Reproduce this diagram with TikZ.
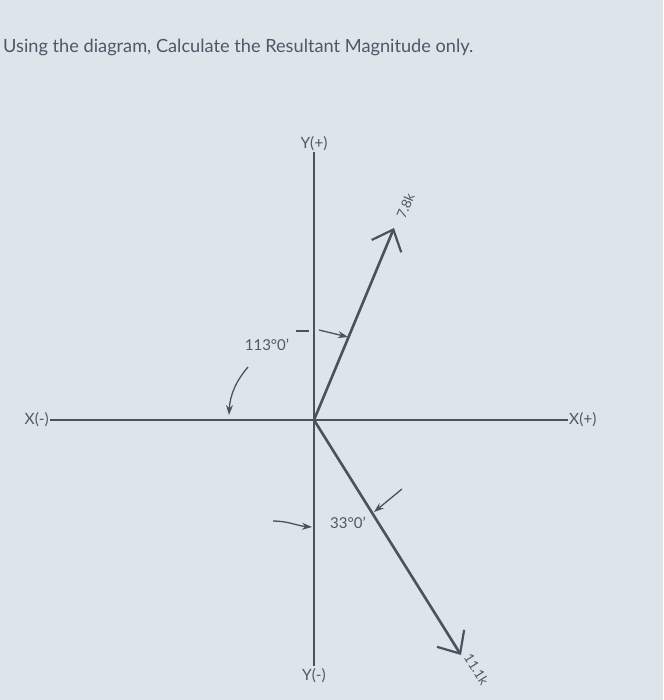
\documentclass[tikz,border=0pt]{standalone}
\usepackage{fontspec}
\setmainfont{Lato}
\usetikzlibrary{arrows.meta}
\definecolor{bg}{HTML}{DDE4EA}
\definecolor{ink}{HTML}{4A525E}
\definecolor{txt}{HTML}{4E5866}
\tikzset{
  axis/.style={draw=ink, line width=1.3pt},
  vec/.style={draw=ink, line width=2.6pt, -{Straight Barb[length=18pt,width=32pt,line width=2.2pt]}},
  note/.style={draw=ink, line width=1.3pt, -{Stealth[length=10pt,width=7pt]}},
  lbl/.style={text=txt, font=\fontsize{15.5}{17}\selectfont, inner sep=1pt},
  vlbl/.style={text=txt, font=\fontsize{13.5}{15}\selectfont, inner sep=1pt},
  ang/.style={text=txt, font=\fontsize{15}{17}\selectfont, inner sep=1pt},
}
\begin{document}
\begin{tikzpicture}[x=1pt, y=-1pt]
\fill[bg] (0,0) rectangle (663,700);
\useasboundingbox (0,0) rectangle (663,700);
\node[anchor=base west, text=txt, font=\fontsize{18.2}{22}\selectfont, inner sep=0pt] (title) at (3,53) {Using the diagram, Calculate the Resultant Magnitude only.};
% axes
\coordinate (O) at (314,420);
\coordinate (xl) at (50,420);
\coordinate (xr) at (568,420);
\coordinate (yt) at (314,152);
\coordinate (yb) at (314,666);
\draw[axis] (xl) -- (xr);
\draw[axis] (yt) -- (yb);
\node[lbl, anchor=east] (xm) at (xl) {X(-)};
\node[lbl, anchor=west] (xp) at (xr) {X(+)};
\node[lbl, anchor=south] (yp) at (yt) {Y(+)};
\node[lbl, anchor=north] (ym) at ([yshift=-1pt]yb) {Y(-)};
% vectors
\coordinate (t1) at (394,228);
\coordinate (t2) at (461,655);
\draw[vec] (O) -- (t1);
\draw[vec] (O) -- (t2);
\node[vlbl, rotate=67, anchor=west] (v1) at (400,219) {7.8k};
\node[vlbl, rotate=-58, anchor=west] (v2) at (467,654) {11.1k};
% angle 113
\node[ang] (a1) at (267,345) {113°0'};
\coordinate (c1s) at (248,367);
\coordinate (c1e) at (229,415);
\draw[note] (c1s) .. controls (236,381) and (230,395) .. (c1e);
\coordinate (d1s) at (296,331);
\coordinate (d1e) at (309,331);
\draw[ink, line width=1.4pt] (d1s) -- (d1e);
\coordinate (n1s) at (319,330);
\coordinate (n1e) at (348,337);
\draw[note] (n1s) -- (n1e);
% angle 33
\node[ang] (a2) at (348,523) {33°0'};
\coordinate (n2s) at (273,521);
\coordinate (n2e) at (312,527);
\draw[note] (n2s) .. controls (288,521) and (298,526) .. (n2e);
\coordinate (n3s) at (402,489);
\coordinate (n3e) at (374,512);
\draw[note] (n3s) -- (n3e);
\end{tikzpicture}
\end{document}
